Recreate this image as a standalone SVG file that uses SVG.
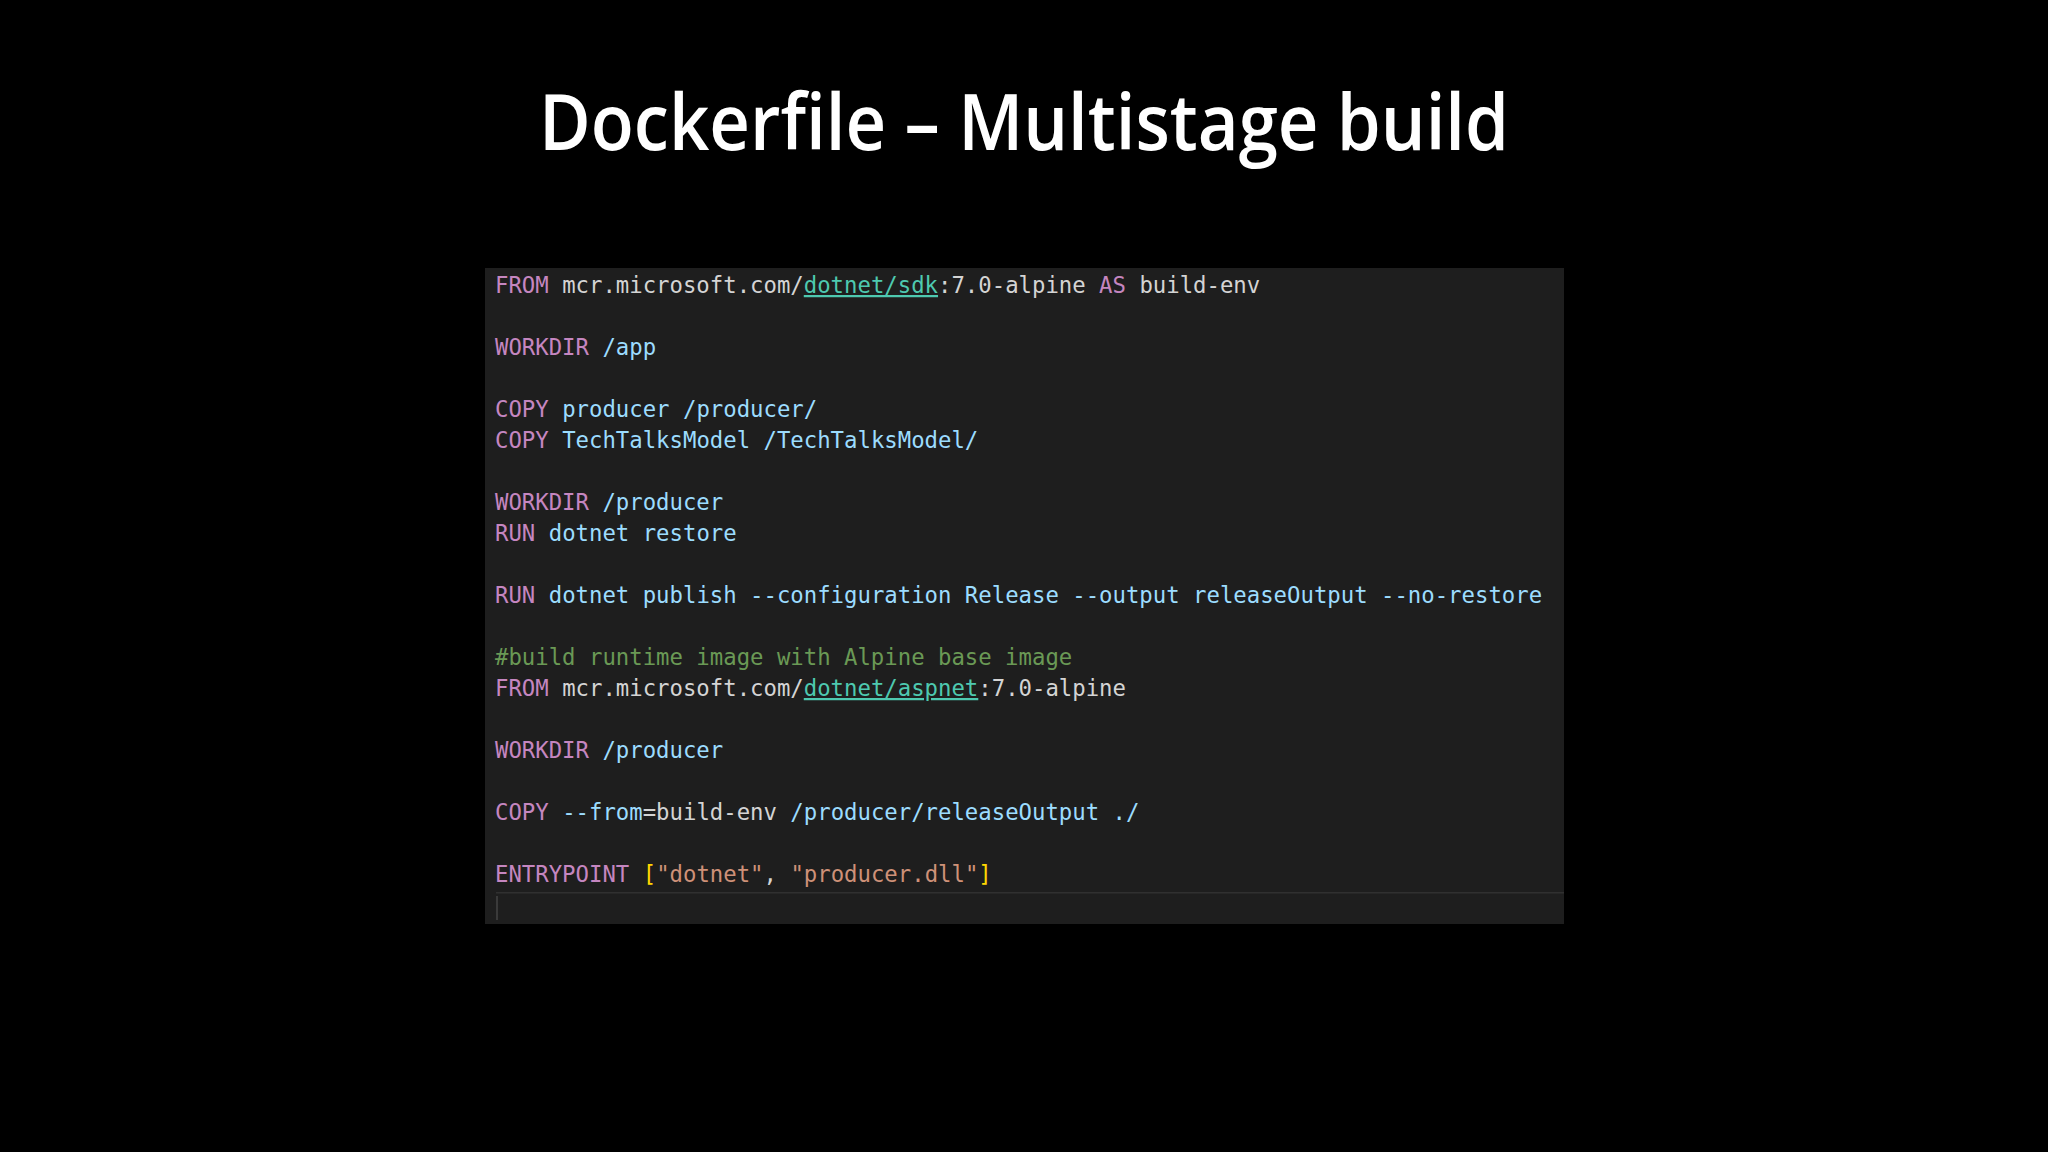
<svg xmlns="http://www.w3.org/2000/svg" width="2048" height="1152" viewBox="0 0 2048 1152">
<style>
.c{font-family:"DejaVu Sans Mono","Liberation Mono",monospace;font-size:22.3px;fill:#d4d4d4;white-space:pre}
.k{fill:#c586c0}.v{fill:#9cdcfe}.l{fill:#4ec9b0;text-decoration:underline}.g{fill:#6a9955}.s{fill:#ce9178}.y{fill:#ffd700}
</style>
<rect width="2048" height="1152" fill="#000"/>
<text x="1024" y="150" text-anchor="middle" font-family="Open Sans, Liberation Sans, sans-serif" font-weight="600" font-size="78" fill="#fff" textLength="970" lengthAdjust="spacingAndGlyphs">Dockerfile – Multistage build</text>
<g id="code">
<rect x="485" y="268" width="1079" height="656" fill="#1e1e1e"/>
<rect x="496" y="892" width="1068" height="1.5" fill="#303030"/>
<rect x="496" y="896" width="2" height="24" fill="#3a3a3a"/>
<text class="c" x="495" y="293"><tspan class="k">FROM</tspan> mcr.microsoft.com/<tspan class="l">dotnet/sdk</tspan>:7.0-alpine <tspan class="k">AS</tspan> build-env</text>
<text class="c" x="495" y="355"><tspan class="k">WORKDIR</tspan> <tspan class="v">/app</tspan></text>
<text class="c" x="495" y="417"><tspan class="k">COPY</tspan> <tspan class="v">producer /producer/</tspan></text>
<text class="c" x="495" y="448"><tspan class="k">COPY</tspan> <tspan class="v">TechTalksModel /TechTalksModel/</tspan></text>
<text class="c" x="495" y="510"><tspan class="k">WORKDIR</tspan> <tspan class="v">/producer</tspan></text>
<text class="c" x="495" y="541"><tspan class="k">RUN</tspan> <tspan class="v">dotnet restore</tspan></text>
<text class="c" x="495" y="603"><tspan class="k">RUN</tspan> <tspan class="v">dotnet publish --configuration Release --output releaseOutput --no-restore</tspan></text>
<text class="c" x="495" y="665"><tspan class="g">#build runtime image with Alpine base image</tspan></text>
<text class="c" x="495" y="696"><tspan class="k">FROM</tspan> mcr.microsoft.com/<tspan class="l">dotnet/aspnet</tspan>:7.0-alpine</text>
<text class="c" x="495" y="758"><tspan class="k">WORKDIR</tspan> <tspan class="v">/producer</tspan></text>
<text class="c" x="495" y="820"><tspan class="k">COPY</tspan> <tspan class="v">--from</tspan>=build-env <tspan class="v">/producer/releaseOutput ./</tspan></text>
<text class="c" x="495" y="882"><tspan class="k">ENTRYPOINT</tspan> <tspan class="y">[</tspan><tspan class="s">"dotnet"</tspan>, <tspan class="s">"producer.dll"</tspan><tspan class="y">]</tspan></text>
</g>
</svg>
